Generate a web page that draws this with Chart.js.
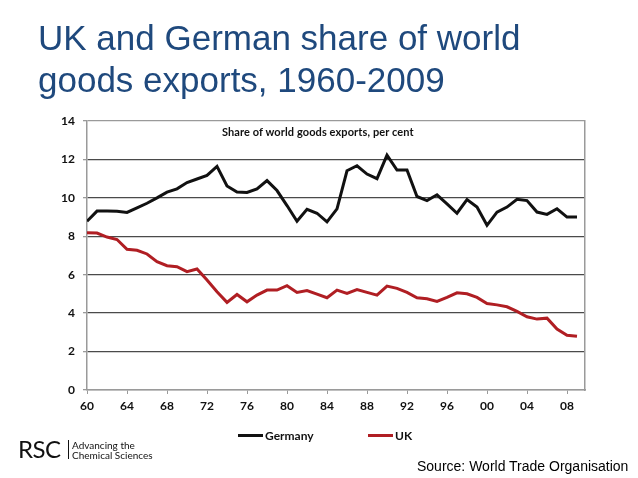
<!DOCTYPE html>
<html>
<head>
<meta charset="utf-8">
<script src="https://cdn.jsdelivr.net/npm/chart.js@4.4.1/dist/chart.umd.min.js"></script>
<style>
  body { margin: 0; background: #fff; width: 638px; height: 478px; position: relative; overflow: hidden; }
  #chart { position: absolute; left: 0; top: 0; }
  .title { position: absolute; left: 38px; top: 17px; font: 35px/42px "Liberation Sans", Arial, sans-serif; color: #1f497d; white-space: nowrap; }
  .inner-title { position: absolute; left: 222px; top: 125px; font: bold 11px Lato, sans-serif; color: #111; white-space: nowrap; letter-spacing: 0.1px; }
  .legend { position: absolute; top: 428px; font: bold 12px Lato, sans-serif; color: #111; }
  .legend span.line { position: absolute; top: 6px; width: 25px; height: 3px; }
  .legend span.txt { position: absolute; left: 27px; top: 0; white-space: nowrap; }
  .logo { position: absolute; left: 18px; top: 434px; font-family: Lato, sans-serif; color: #111; }
  .logo .rsc { position: absolute; left: 0; top: 1px; font-size: 24px; line-height: 28px; letter-spacing: -0.5px; }
  .logo .bar { position: absolute; left: 50px; top: 6px; width: 1px; height: 19px; background: #111; }
  .logo .tag { position: absolute; left: 54px; top: 6px; font-size: 10px; line-height: 10px; white-space: nowrap; }
  .source { position: absolute; left: 417px; top: 458px; font: 14px "Liberation Sans", Arial, sans-serif; color: #000; white-space: nowrap; }
</style>
</head>
<body>
<canvas id="chart" width="638" height="478"></canvas>
<div class="title">UK and German share of world<br>goods exports, 1960-2009</div>
<div class="inner-title">Share of world goods exports, per cent</div>
<div class="legend" style="left:238px"><span class="line" style="background:#111"></span><span class="txt">Germany</span></div>
<div class="legend" style="left:368px"><span class="line" style="background:#b01e23"></span><span class="txt">UK</span></div>
<div class="logo"><span class="rsc">RSC</span><span class="bar"></span><span class="tag">Advancing the<br>Chemical Sciences</span></div>
<div class="source">Source: World Trade Organisation</div>
<script>
const years = [
  1960, 1961, 1962, 1963, 1964, 1965, 1966, 1967, 1968, 1969,
  1970, 1971, 1972, 1973, 1974, 1975, 1976, 1977, 1978, 1979,
  1980, 1981, 1982, 1983, 1984, 1985, 1986, 1987, 1988, 1989,
  1990, 1991, 1992, 1993, 1994, 1995, 1996, 1997, 1998, 1999,
  2000, 2001, 2002, 2003, 2004, 2005, 2006, 2007, 2008, 2009
];
const germany = [
  8.78, 9.31, 9.31, 9.30, 9.24, 9.48, 9.72, 10.00, 10.30, 10.47,
  10.80, 10.98, 11.17, 11.64, 10.62, 10.30, 10.28, 10.47, 10.90, 10.38,
  9.60, 8.78, 9.40, 9.20, 8.75, 9.43, 11.41, 11.67, 11.24, 11.00,
  12.22, 11.45, 11.45, 10.07, 9.86, 10.16, 9.69, 9.20, 9.91, 9.52,
  8.57, 9.26, 9.52, 9.93, 9.86, 9.26, 9.14, 9.43, 9.00, 9.00
];
const uk = [
  8.19, 8.17, 7.96, 7.83, 7.32, 7.27, 7.08, 6.68, 6.47, 6.42,
  6.16, 6.30, 5.72, 5.11, 4.56, 4.97, 4.59, 4.94, 5.20, 5.20,
  5.43, 5.08, 5.18, 4.99, 4.80, 5.20, 5.03, 5.23, 5.08, 4.94,
  5.41, 5.29, 5.08, 4.80, 4.75, 4.61, 4.82, 5.06, 5.01, 4.82,
  4.50, 4.43, 4.33, 4.09, 3.81, 3.69, 3.74, 3.17, 2.85, 2.80
];
const xTicks = [1960, 1964, 1968, 1972, 1976, 1980, 1984, 1988, 1992, 1996, 2000, 2004, 2008];
const yTicks = [0, 2, 4, 6, 8, 10, 12, 14];

const axisGray = "#9a9a9a";
const gridDark = "#4a4a4a";
const tickFont = { family: "Lato", size: 12, weight: "bold" };

function toPoints(values) {
  return years.map((y, i) => ({ x: y, y: values[i] }));
}

new Chart(document.getElementById("chart"), {
  type: "line",
  data: {
    datasets: [
      {
        label: "Germany",
        data: toPoints(germany),
        borderColor: "#111111",
        borderWidth: 3,
        pointRadius: 0,
        tension: 0,
      },
      {
        label: "UK",
        data: toPoints(uk),
        borderColor: "#b01e23",
        borderWidth: 3,
        pointRadius: 0,
        tension: 0,
      },
    ],
  },
  options: {
    responsive: false,
    animation: false,
    devicePixelRatio: 1,
    layout: { padding: { left: 61, top: 121, right: 53, bottom: 62 } },
    plugins: {
      legend: { display: false },
      tooltip: { enabled: false },
    },
    scales: {
      x: {
        type: "linear",
        min: 1960,
        max: 2009.8,
        afterBuildTicks: (s) => { s.ticks = xTicks.map((v) => ({ value: v })); },
        afterFit: (s) => { s.height = 26; },
        ticks: {
          color: "#111",
          font: tickFont,
          padding: 5,
          maxRotation: 0,
          autoSkip: false,
          callback: (v) => String(v % 100).padStart(2, "0"),
        },
        grid: { drawOnChartArea: false, drawTicks: true, tickLength: 4, tickColor: axisGray },
        border: { color: axisGray, width: 1.5 },
      },
      y: {
        min: 0,
        max: 14,
        afterBuildTicks: (s) => { s.ticks = yTicks.map((v) => ({ value: v })); },
        afterFit: (s) => { s.width = 26; },
        ticks: { color: "#111", font: tickFont, padding: 8 },
        grid: {
          color: (c) => (c.tick && (c.tick.value === 0 || c.tick.value === 14) ? axisGray : gridDark),
          lineWidth: 1.3,
          drawTicks: true,
          tickLength: 4,
          tickColor: axisGray,
        },
        border: { color: axisGray, width: 1.5 },
      },
      yRight: {
        position: "right",
        min: 0,
        max: 14,
        afterFit: (s) => { s.width = 0; },
        ticks: { display: false },
        grid: { drawOnChartArea: false, drawTicks: false },
        border: { color: axisGray, width: 1.5 },
      },
    },
  },
});
</script>
</body>
</html>
